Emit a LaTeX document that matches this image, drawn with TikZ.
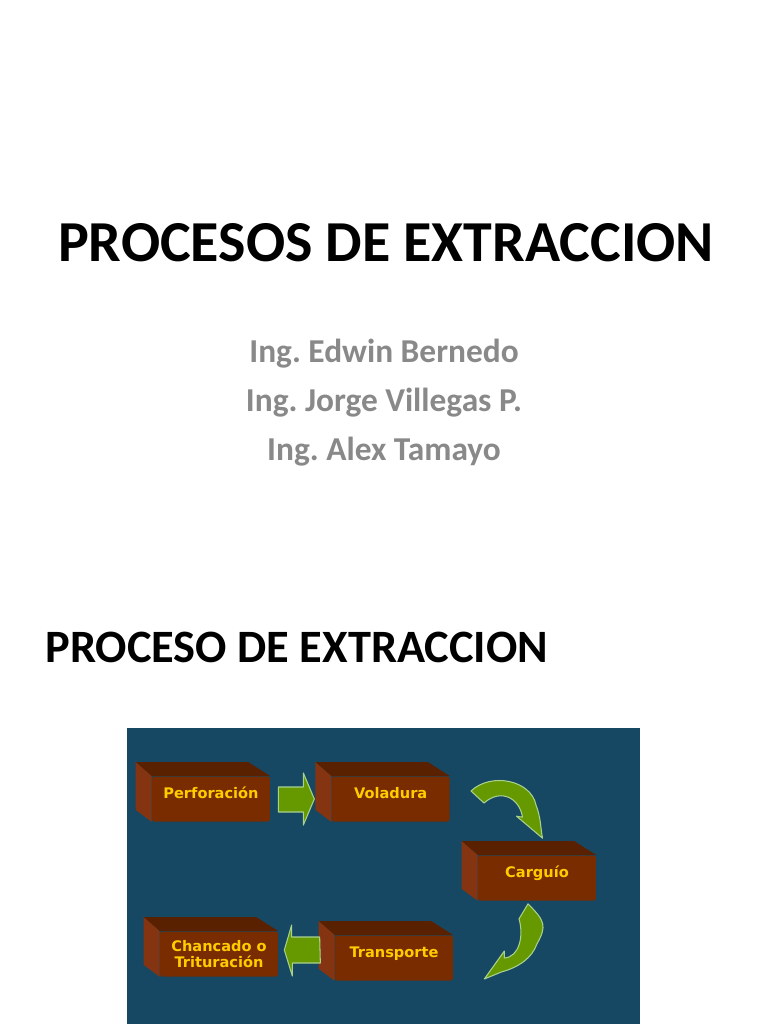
\documentclass[tikz,border=0pt]{standalone}
\usepackage{fontspec}
\setmainfont{Carlito}
\newfontfamily\verdanafont{DejaVu Sans}
\usetikzlibrary{positioning,calc}
\definecolor{fondoazul}{HTML}{164863}
\definecolor{ladrillo}{HTML}{782C00}
\definecolor{ladrillotop}{HTML}{5A2100}
\definecolor{ladrilloside}{HTML}{843410}
\definecolor{oro}{HTML}{FFCC00}
\definecolor{verdeflecha}{HTML}{669900}
\definecolor{bordeflecha}{HTML}{A9D18E}
\definecolor{grisautor}{HTML}{898989}

\tikzset{
  bloque/.style={fill=ladrillo, minimum width=2.36cm, minimum height=0.9cm, inner sep=0pt,
    text=oro, font=\verdanafont\bfseries\fontsize{8.3}{9.6}\selectfont, align=center, rounded corners=1pt},
  bloqueuno/.style={bloque, text height=6pt, text depth=7pt},
  flecha/.style={fill=verdeflecha, draw=bordeflecha, line width=0.6pt, line join=round},
  autor/.style={text=grisautor, font=\bfseries\fontsize{19}{23}\selectfont, anchor=base},
}

\begin{document}
\frenchspacing
\begin{tikzpicture}[x=0.02cm, y=-0.02cm]
    \useasboundingbox (0,0) rectangle (768,1024);
    \fill[white] (0,0) rectangle (768,1024);

    % Titles
    \node[font=\bfseries\fontsize{33}{40}\selectfont, anchor=base] (titulo) at (386,261) {PROCESOS DE EXTRACCION};
    \node[autor] (autor1) at (384,362) {Ing. Edwin Bernedo};
    \node[autor] (autor2) at (384,411) {Ing. Jorge Villegas P.};
    \node[autor] (autor3) at (384,460) {Ing. Alex Tamayo};
    \node[font=\bfseries\fontsize{26.4}{32}\selectfont, anchor=base west, inner sep=0pt] (subtitulo) at (45,662) {PROCESO DE EXTRACCION};

    % Diagram panel
    \fill[fondoazul] (127,728) rectangle (640,1024);

    % Process blocks
    \node[bloqueuno] (perf) at (211,799) {Perforación};
    \node[bloqueuno, right=1.22cm of perf] (vol) {Voladura};
    \node[bloqueuno] (carg) at (537,878) {Carguío};
    \node[bloqueuno] (transp) at (394,958) {Transporte};
    \node[bloque] (chanc) at (219,954) {Chancado o\\Trituración};

    % 3D faces
    \foreach \blq in {perf,vol,carg,transp,chanc} {
        \fill[ladrillotop] (\blq.north west) -- ++(-16,-14) -- ($(\blq.north east)+(-22,-14)$) -- (\blq.north east) -- cycle;
        \fill[ladrilloside] (\blq.north west) -- ++(-16,-14) -- ($(\blq.south west)+(-16,-12)$) -- (\blq.south west) -- cycle;
    }

    % Straight arrows
    \draw[flecha] ($(perf.east)+(8,-12)$) -- ++(25,0) -- ++(0,-14) -- ($(vol.west)+(-17,0)$) -- ++(-11,26) -- ++(0,-13) -- ++(-25,0) -- cycle;
    \draw[flecha] ($(transp.west)+(-15,-21)$) -- ++(-28,0) -- ++(0,-12) -- ($(chanc.east)+(6,-4)$) -- ++(8,26) -- ++(0,-13) -- ++(28,0) -- cycle;

    % Curved arrows
    \draw[flecha] ($(vol.east)+(21,-8)$) .. controls +(20,-19) and +(-5,-25) .. ++(65,14)
        .. controls +(5,13) and +(-2,-10) .. ($(carg.north)+(5.5,-17)$) -- ++(-26,-22) -- ++(6,1)
        .. controls +(-3,-19) and +(17,-15) .. ($(vol.east)+(34,4)$) -- cycle;
    \draw[flecha] ($(carg.south)+(-9,3)$) .. controls +(17,17) and +(10,-18) .. ++(9,40)
        .. controls +(-5,14) and +(18,-5) .. ($(transp.east)+(48,14)$) -- ($(transp.east)+(31,21)$)
        -- ++(20,-28) -- ++(0,7) .. controls +(15,-1) and +(5,17) .. ($(carg.south)+(-18,18)$) -- cycle;
\end{tikzpicture}
\end{document}
